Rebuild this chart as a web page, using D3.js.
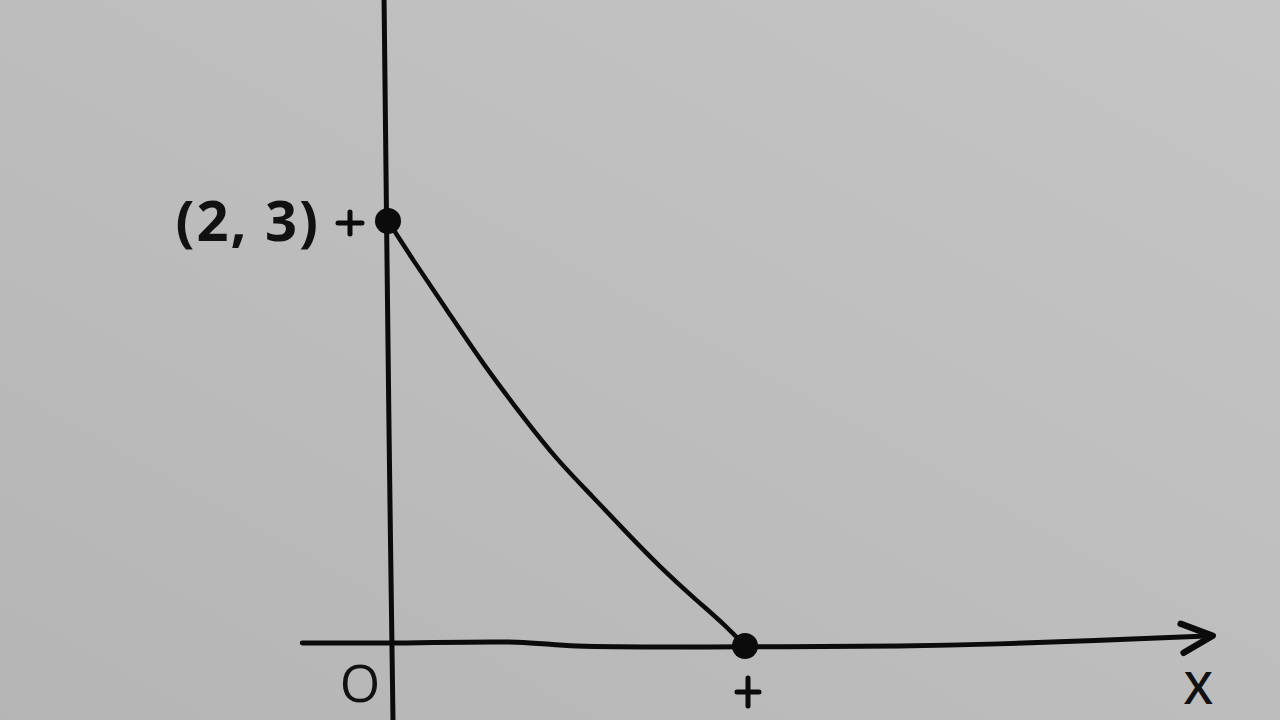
<!DOCTYPE html>
<html>
<head>
<meta charset="utf-8">
<script src="https://cdn.jsdelivr.net/npm/d3@7"></script>
<style>
  html, body { margin: 0; padding: 0; background: #bdbdbd; }
  svg { display: block; }
  .lbl { font-family: "Open Sans", sans-serif; fill: #111; }
</style>
</head>
<body>
<svg id="chart" width="1280" height="720"></svg>
<script>
// curve, x: 0 = origin, 1 = marked point on x axis
// y: 0 = x axis, 1 = the point labelled (2,3)
const curveX = [0, 0.070, 0.165, 0.258, 0.378, 0.473, 0.574, 0.669, 0.762, 0.854, 0.950, 1.0];
const curveY = [1, 0.908, 0.791, 0.673, 0.539, 0.438, 0.351, 0.266, 0.186, 0.115, 0.045, 0];

// the two marked points
const pointX = [0, 1];
const pointY = [1, 0];

// hand drawn axes (a bit wobbly)
const xAxisX = [-0.24, 0.0, 0.36, 0.53, 1.0, 1.43, 1.71, 2.31];
const xAxisY = [0.007, 0.007, 0.009, 0.0, -0.002, 0, 0.005, 0.024];
const yAxisX = [0.014, 0.003, -0.011];
const yAxisY = [-0.174, 0.5, 1.52];

// labels
const pointLabel = "(2, 3)";
const originLabel = "O";
const axisLabel = "X";

const svg = d3.select("#chart");
const W = 1280, H = 720;

// paper background
const defs = svg.append("defs");
const grad = defs.append("linearGradient")
    .attr("id", "paper")
    .attr("x1", "0").attr("y1", "1").attr("x2", "1").attr("y2", "0");
grad.append("stop").attr("offset", "0%").attr("stop-color", "#b5b5b5");
grad.append("stop").attr("offset", "55%").attr("stop-color", "#bebebe");
grad.append("stop").attr("offset", "100%").attr("stop-color", "#c5c5c5");
svg.append("rect").attr("width", W).attr("height", H).attr("fill", "url(#paper)");

const x = d3.scaleLinear().domain([0, 1]).range([388, 745]);
const y = d3.scaleLinear().domain([0, 1]).range([646, 221]);

const ink = "#0b0b0b";
const smooth = d3.line().x(d => x(d[0])).y(d => y(d[1])).curve(d3.curveCatmullRom);
// the pen stroke is smoother than my readings, so let basis even it out
const pen = d3.line().x(d => x(d[0])).y(d => y(d[1])).curve(d3.curveBasis);

// y axis
svg.append("path")
    .attr("d", smooth(d3.zip(yAxisX, yAxisY)))
    .attr("fill", "none").attr("stroke", ink).attr("stroke-width", 5)
    .attr("stroke-linecap", "round");

// x axis
const xPts = d3.zip(xAxisX, xAxisY);
svg.append("path")
    .attr("d", smooth(xPts))
    .attr("fill", "none").attr("stroke", ink).attr("stroke-width", 5)
    .attr("stroke-linecap", "round");

// arrow head
const tip = xPts[xPts.length - 1];
const tx = x(tip[0]), ty = y(tip[1]);
svg.append("path")
    .attr("d", `M${tx - 32},${ty - 12} L${tx},${ty} L${tx - 29},${ty + 17}`)
    .attr("fill", "none").attr("stroke", ink).attr("stroke-width", 6.5)
    .attr("stroke-linecap", "round").attr("stroke-linejoin", "round");

// curve
svg.append("path")
    .attr("d", pen(d3.zip(curveX, curveY)))
    .attr("fill", "none").attr("stroke", ink).attr("stroke-width", 4.5)
    .attr("stroke-linecap", "round");

// points
svg.selectAll("circle.pt")
    .data(d3.zip(pointX, pointY))
    .enter().append("circle")
    .attr("class", "pt")
    .attr("cx", d => x(d[0]))
    .attr("cy", d => y(d[1]))
    .attr("r", 13)
    .attr("fill", ink);

// tick crosses
const cross = (cx, cy, w, h) => `M${cx - w / 2},${cy} H${cx + w / 2} M${cx},${cy - h / 2} V${cy + h / 2}`;
svg.append("path")
    .attr("d", cross(x(0) - 38, y(1) + 2, 24, 22))
    .attr("stroke", ink).attr("stroke-width", 5).attr("stroke-linecap", "round");
svg.append("path")
    .attr("d", cross(x(1) + 3, y(0) + 46, 22, 28))
    .attr("stroke", ink).attr("stroke-width", 5).attr("stroke-linecap", "round");

// labels
svg.append("text").attr("class", "lbl")
    .attr("x", x(0) - 68).attr("y", y(1) + 20)
    .attr("text-anchor", "end")
    .attr("font-size", 56)
    .attr("letter-spacing", 2)
    .style("font-weight", 700)
    .text(pointLabel);

svg.append("text").attr("class", "lbl")
    .attr("x", x(0) - 28).attr("y", y(0) + 56)
    .attr("text-anchor", "middle")
    .attr("font-size", 52)
    .style("font-weight", 400)
    .text(originLabel);

svg.append("text").attr("class", "lbl")
    .attr("x", x(2.27)).attr("y", y(0) + 58)
    .attr("text-anchor", "middle")
    .attr("font-size", 46)
    .style("font-weight", 600)
    .text(axisLabel);
</script>
</body>
</html>
